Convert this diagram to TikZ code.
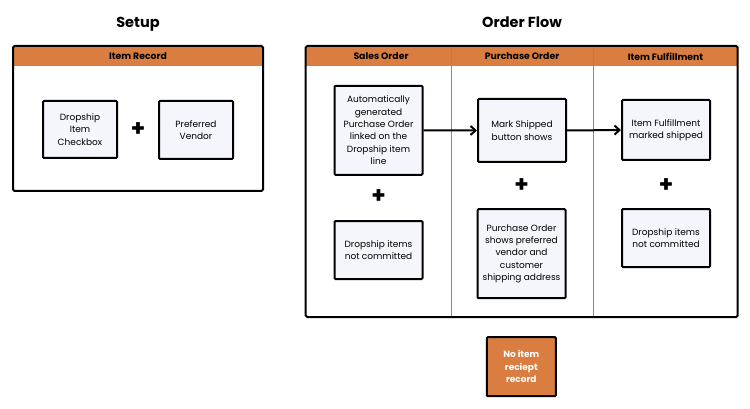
\documentclass[tikz,border=0pt]{standalone}
\usepackage{fontspec}
\setmainfont{Poppins}
\usetikzlibrary{arrows.meta, positioning}
\definecolor{hdrorange}{HTML}{D97E40}
\definecolor{cardfill}{HTML}{F4F6FC}
\definecolor{divgray}{HTML}{8A8A8A}

\begin{document}
\begin{tikzpicture}[x=1pt, y=-1pt,
        panel/.style={draw, line width=2pt, rounded corners=1.5pt},
        band/.style={fill=hdrorange},
        hdr/.style={font=\fontsize{9.3}{10}\selectfont\bfseries},
        title/.style={anchor=base, font=\fontsize{14.5}{16}\selectfont\bfseries},
        card/.style={draw, line width=2pt, fill=cardfill, rounded corners=1pt,
            align=center, inner sep=1pt, minimum width=88pt,
            font=\fontsize{9}{12.3}\selectfont},
        plus/.style={font=\fontsize{23}{23}\selectfont\bfseries},
        >={Straight Barb[length=5pt, width=9pt]}
    ]
        \useasboundingbox (0,0) rectangle (750,409);

        % titles
        \node[title] (setup) at (138,28) {Setup};
        \node[title] (flow) at (522,28) {Order Flow};

        % setup panel
        \fill[band] (13,46) rectangle (263,66.5);
        \draw[panel] (13,46) rectangle (263,191);
        \node[hdr] (itemrec) at (138,56.5) {Item Record};
        \node[card, minimum width=74pt, minimum height=57pt] (chk) at (80,129.5) {Dropship\\Item\\Checkbox};
        \node[card, minimum width=74pt, minimum height=58pt] (vend) at (196,130) {Preferred\\Vendor};
        \node[plus] (plus0) at (138,130) {+};

        % order flow panel
        \fill[band] (305.7,46) rectangle (737.7,66.5);
        \draw[divgray, line width=0.8pt] (451.7,46) -- (451.7,317);
        \draw[divgray, line width=0.8pt] (593.3,46) -- (593.3,317);
        \draw[panel] (305.7,46) rectangle (737.7,317);
        \node[hdr] (so) at (381,56.5) {Sales Order};
        \node[hdr] (po) at (522,56.5) {Purchase Order};
        \node[hdr] (ifu) at (665.5,56.5) {Item Fulfillment};

        % sales order column
        \node[card, minimum height=89pt] (auto) at (378.5,130.3)
            {Automatically\\generated\\Purchase Order\\linked on the\\Dropship item\\line};
        \node[plus] (plus1) at (378.5,197) {+};
        \node[card, minimum height=58pt] (nc1) at (378.5,250) {Dropship items\\not committed};

        % purchase order column
        \node[card, minimum height=63pt] (mark) at (522,130.5) {Mark Shipped\\button shows};
        \node[plus] (plus2) at (521.5,185.5) {+};
        \node[card, minimum height=89pt] (pos) at (521.5,253.7)
            {Purchase Order\\shows preferred\\vendor and\\customer\\shipping address};

        % item fulfillment column
        \node[card, minimum height=60pt] (iff) at (666,130) {Item Fulfillment\\marked shipped};
        \node[plus] (plus3) at (666,185.5) {+};
        \node[card, minimum height=58pt] (nc3) at (666,238) {Dropship items\\not committed};

        \draw[->, line width=2pt] (auto.east) -- (mark.west);
        \draw[->, line width=2pt] (mark.east) -- (iff.west);

        % below the panel
        \node[draw, line width=2pt, fill=hdrorange, rounded corners=1pt, text=white,
            align=center, minimum width=69pt, minimum height=59pt,
            font=\fontsize{9}{12.3}\selectfont\bfseries] (noir) at (521.3,366.7)
            {No item\\reciept\\record};
    \end{tikzpicture}
\end{document}
